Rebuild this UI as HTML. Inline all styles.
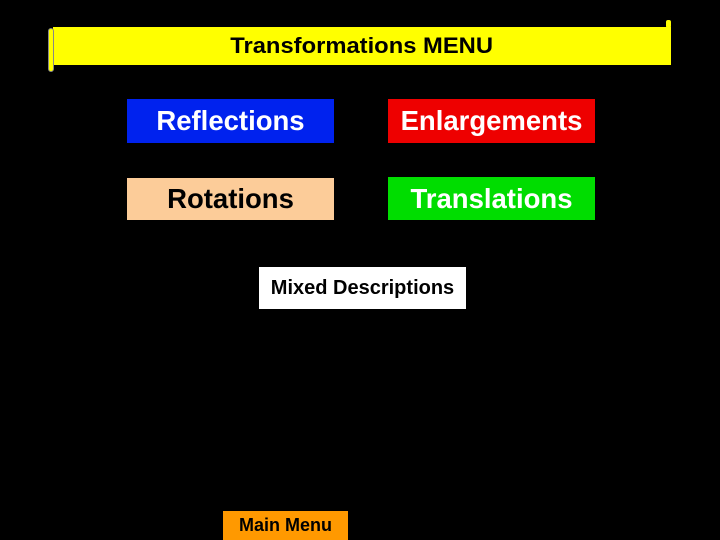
<!DOCTYPE html>
<html><head><style>
body{margin:0;width:720px;height:540px;background:#000;position:relative;overflow:hidden;font-family:"Liberation Sans",sans-serif}
.b{position:absolute;display:flex;align-items:center;justify-content:center;white-space:nowrap;font-weight:bold}
</style></head><body>
<div class="b" style="left:53px;top:27px;width:618px;height:38px;background:#ffff00;font-size:22px;color:#000"><span style="display:inline-block;transform:scaleX(1.08)">Transformations MENU</span></div>
<div style="position:absolute;left:48px;top:28px;width:6px;height:44px;background:#ffff00;border-radius:3px;border:1px solid #888;box-sizing:border-box"></div>
<div style="position:absolute;left:666px;top:20px;width:5px;height:8px;background:#ffff00;border-radius:2px"></div>
<div class="b" style="left:127px;top:99px;width:207px;height:44px;background:#0022ee;color:#fff;font-size:27.5px">Reflections</div>
<div class="b" style="left:388px;top:99px;width:207px;height:44px;background:#ee0000;color:#fff;font-size:27.5px">Enlargements</div>
<div class="b" style="left:127px;top:178px;width:207px;height:42px;background:#fccc99;color:#000;font-size:27.5px">Rotations</div>
<div class="b" style="left:388px;top:177px;width:207px;height:43px;background:#00dd00;color:#fff;font-size:27.5px">Translations</div>
<div class="b" style="left:259px;top:267px;width:207px;height:42px;background:#fff;color:#000;font-size:20px">Mixed Descriptions</div>
<div class="b" style="left:223px;top:511px;width:125px;height:29px;background:#ff9900;color:#000;font-size:18px">Main Menu</div>
</body></html>
